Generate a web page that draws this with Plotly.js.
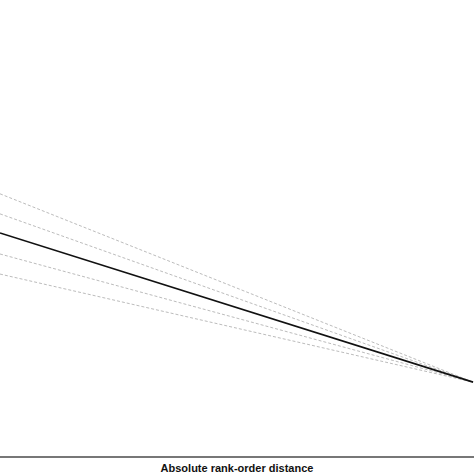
<!DOCTYPE html>
<html>
<head>
<meta charset="utf-8">
<script src="https://cdn.plot.ly/plotly-3.0.1.min.js"></script>
<style>
  html, body { margin: 0; padding: 0; background: #fff; }
  #plot { width: 474px; height: 474px; }
</style>
</head>
<body>
<div id="plot"></div>
<script>
// rank-order distance (start and end of the visible span)
const distance = [0, 1];

// fitted line and its bands
const fitLine = [0.489, 0.162];
const upperOuter = [0.575, 0.162];
const upperInner = [0.531, 0.162];
const lowerInner = [0.443, 0.162];
const lowerOuter = [0.399, 0.162];

const bandStyle = { color: '#bcbcbc', width: 1, dash: '3px,2px' };

const traces = [
    { x: distance, y: upperOuter, mode: 'lines', line: bandStyle },
    { x: distance, y: upperInner, mode: 'lines', line: bandStyle },
    { x: distance, y: lowerInner, mode: 'lines', line: bandStyle },
    { x: distance, y: lowerOuter, mode: 'lines', line: bandStyle },
    { x: distance, y: fitLine, mode: 'lines', line: { color: '#111', width: 1.6 } }
];

const layout = {
    width: 474,
    height: 474,
    paper_bgcolor: '#fff',
    plot_bgcolor: '#fff',
    showlegend: false,
    margin: { t: 0, r: 0, b: 18, l: 0 },
    font: { family: 'Liberation Sans, Arial, sans-serif', color: '#111' },
    xaxis: {
        range: [0, 1.002],
        showgrid: false,
        zeroline: false,
        showticklabels: false,
        ticks: '',
        showline: true,
        linecolor: '#777',
        linewidth: 1.5,
        automargin: false,
        title: {
            text: '<b>Absolute rank-order distance</b>',
            font: { size: 11, color: '#111' },
            standoff: 8
        }
    },
    yaxis: {
        range: [0, 1],
        showgrid: false,
        zeroline: false,
        showticklabels: false,
        ticks: '',
        showline: false
    }
};

Plotly.newPlot('plot', traces, layout, { displayModeBar: false, staticPlot: true });
</script>
</body>
</html>
